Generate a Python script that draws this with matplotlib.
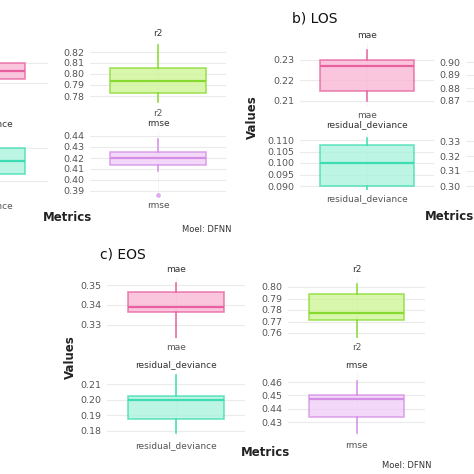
"""
Boxplots of DFNN metrics per season (cropped view of a faceted figure).
"""
import matplotlib
matplotlib.use("Agg")
from matplotlib import pyplot as plt

W = H = 474

# (whislo, q1, med, q3, whishi, outliers)
a_mae = (0.55, 0.62, 0.66, 0.70, 0.80, [])          # partly cut off, guessed
a_r2 = (0.775, 0.7825, 0.7935, 0.8055, 0.8265, [])
a_resid = (0.55, 0.62, 0.66, 0.70, 0.80, [])        # partly cut off, guessed
a_rmse = (0.4085, 0.4135, 0.420, 0.4255, 0.4375, [0.3865])
b_mae = (0.210, 0.215, 0.227, 0.230, 0.235, [])
b_resid = (0.088, 0.090, 0.100, 0.108, 0.111, [])
c_mae = (0.323, 0.3365, 0.339, 0.3465, 0.351, [])
c_r2 = (0.755, 0.771, 0.777, 0.794, 0.803, [])
c_resid = (0.179, 0.1875, 0.200, 0.2025, 0.216, [])
c_rmse = (0.4215, 0.4335, 0.447, 0.4505, 0.4605, [])

a_r2_ticks = [0.78, 0.79, 0.80, 0.81, 0.82]
a_rmse_ticks = [0.39, 0.40, 0.41, 0.42, 0.43, 0.44]
b_mae_ticks = [0.21, 0.22, 0.23]
b_r2_ticks = [0.87, 0.88, 0.89, 0.90]
b_resid_ticks = [0.090, 0.095, 0.100, 0.105, 0.110]
b_rmse_ticks = [0.30, 0.31, 0.32, 0.33]
c_mae_ticks = [0.33, 0.34, 0.35]
c_r2_ticks = [0.76, 0.77, 0.78, 0.79, 0.80]
c_resid_ticks = [0.18, 0.19, 0.20, 0.21]
c_rmse_ticks = [0.43, 0.44, 0.45, 0.46]

COLORS = {
    "mae": ("#f9b3d2", "#e8609e"),
    "r2": ("#cdf590", "#86d92e"),
    "residual_deviance": ("#a6f2dc", "#3edcb2"),
    "rmse": ("#f1cbf7", "#d48ee6"),
}


def fx(x):
    return x / W


def fy(y):
    return 1 - y / H


def facet(fig, x0, x1, y0, y1, name, stats, tick_fmt, ticks, tv, show_ticks=True):
    """Draw one facet; tv = (v_top, y_top, v_bot, y_bot) pixel calibration."""
    ax = fig.add_axes([fx(x0), fy(y1), (x1 - x0) / W, (y1 - y0) / H])
    v1, p1, v2, p2 = tv
    per_px = (v1 - v2) / (p2 - p1)
    ax.set_ylim(v2 - (y1 - p2) * per_px, v1 + (p1 - y0) * per_px)
    ax.set_xlim(0.5, 1.5)
    face, edge = COLORS[name]
    if stats is not None:
        lo, q1, med, q3, hi, fl = stats
        ax.bxp([dict(whislo=lo, q1=q1, med=med, q3=q3, whishi=hi, fliers=fl)],
               widths=0.7, patch_artist=True, showcaps=False,
               boxprops=dict(facecolor=face, edgecolor=edge, alpha=0.75, linewidth=1.2),
               medianprops=dict(color=edge, linewidth=1.6),
               whiskerprops=dict(color=edge, linewidth=1.1),
               flierprops=dict(marker="o", markersize=2.5, markerfacecolor=edge,
                               markeredgecolor=edge, alpha=0.6))
    ax.set_yticks(ticks)
    ax.set_yticklabels([tick_fmt.format(t) for t in ticks] if show_ticks else [])
    ax.set_xticks([])
    ax.tick_params(axis="y", length=0, labelsize=6.8, labelcolor="#555555", pad=4)
    ax.grid(axis="y", color="#ebebeb", linewidth=0.8)
    ax.axvline(1, color="#f2f2f2", linewidth=0.6, zorder=0)
    for s in ax.spines.values():
        s.set_visible(False)
    ax.set_axisbelow(True)
    if stats is not None:
        xc = fx((x0 + x1) / 2)
        fig.text(xc, fy(y0 - 8), name, ha="center", va="center", fontsize=6.5, color="#333333")
        fig.text(xc, fy(y1 + 9), name, ha="center", va="center", fontsize=6.5, color="#555555")
    return ax


def main():
    fig = plt.figure(figsize=(4.74, 4.74), dpi=100)
    fig.patch.set_facecolor("white")

    # a) cropped panel
    facet(fig, -104, 48, 42, 104, "mae", a_mae, "{:.2f}", [0.6, 0.7],
          (0.8, 42, 0.5, 104), show_ticks=False)
    facet(fig, 90, 226, 42, 104, "r2", a_r2, "{:.2f}", a_r2_ticks, (0.82, 52, 0.78, 96))
    facet(fig, -104, 48, 132, 197, "residual_deviance", a_resid, "{:.2f}", [0.6, 0.7],
          (0.75, 132, 0.55, 197), show_ticks=False)
    facet(fig, 90, 226, 132, 197, "rmse", a_rmse, "{:.2f}", a_rmse_ticks,
          (0.44, 136, 0.39, 191))
    fig.text(fx(67), fy(217), "Metrics", ha="center", va="center", fontsize=8.5,
             fontweight="bold", color="#222222")
    fig.text(fx(232), fy(229), "Moel: DFNN", ha="right", va="center", fontsize=6,
             color="#333333")

    # b) LOS
    fig.text(fx(292), fy(19), "b) LOS", ha="left", va="center", fontsize=10,
             color="#111111")
    facet(fig, 300, 434, 44, 106, "mae", b_mae, "{:.2f}", b_mae_ticks, (0.23, 60, 0.21, 101))
    facet(fig, 466, 600, 44, 106, "r2", None, "{:.2f}", b_r2_ticks, (0.90, 62, 0.87, 101))
    facet(fig, 300, 434, 133, 190, "residual_deviance", b_resid, "{:.3f}", b_resid_ticks,
          (0.110, 140, 0.090, 186))
    facet(fig, 466, 600, 133, 190, "rmse", None, "{:.2f}", b_rmse_ticks,
          (0.33, 141, 0.30, 186))
    fig.text(fx(252), fy(117), "Values", rotation=90, ha="center", va="center",
             fontsize=8.5, fontweight="bold", color="#222222")
    fig.text(fx(474), fy(216), "Metrics", ha="right", va="center", fontsize=8.5,
             fontweight="bold", color="#222222")

    # c) EOS
    fig.text(fx(100), fy(255), "c) EOS", ha="left", va="center", fontsize=10,
             color="#111111")
    facet(fig, 107, 245, 278, 338, "mae", c_mae, "{:.2f}", c_mae_ticks, (0.35, 285, 0.33, 325))
    facet(fig, 288, 425, 278, 338, "r2", c_r2, "{:.2f}", c_r2_ticks, (0.80, 287, 0.76, 333))
    facet(fig, 107, 245, 373, 437, "residual_deviance", c_resid, "{:.2f}", c_resid_ticks,
          (0.21, 384, 0.18, 431))
    facet(fig, 288, 425, 373, 437, "rmse", c_rmse, "{:.2f}", c_rmse_ticks,
          (0.46, 382, 0.43, 422))
    fig.text(fx(70), fy(357), "Values", rotation=90, ha="center", va="center",
             fontsize=8.5, fontweight="bold", color="#222222")
    fig.text(fx(265), fy(453), "Metrics", ha="center", va="center", fontsize=8.5,
             fontweight="bold", color="#222222")
    fig.text(fx(432), fy(466), "Moel: DFNN", ha="right", va="center", fontsize=6,
             color="#333333")

    fig.savefig("out.png", dpi=100)
    plt.close(fig)


if __name__ == "__main__":
    main()
